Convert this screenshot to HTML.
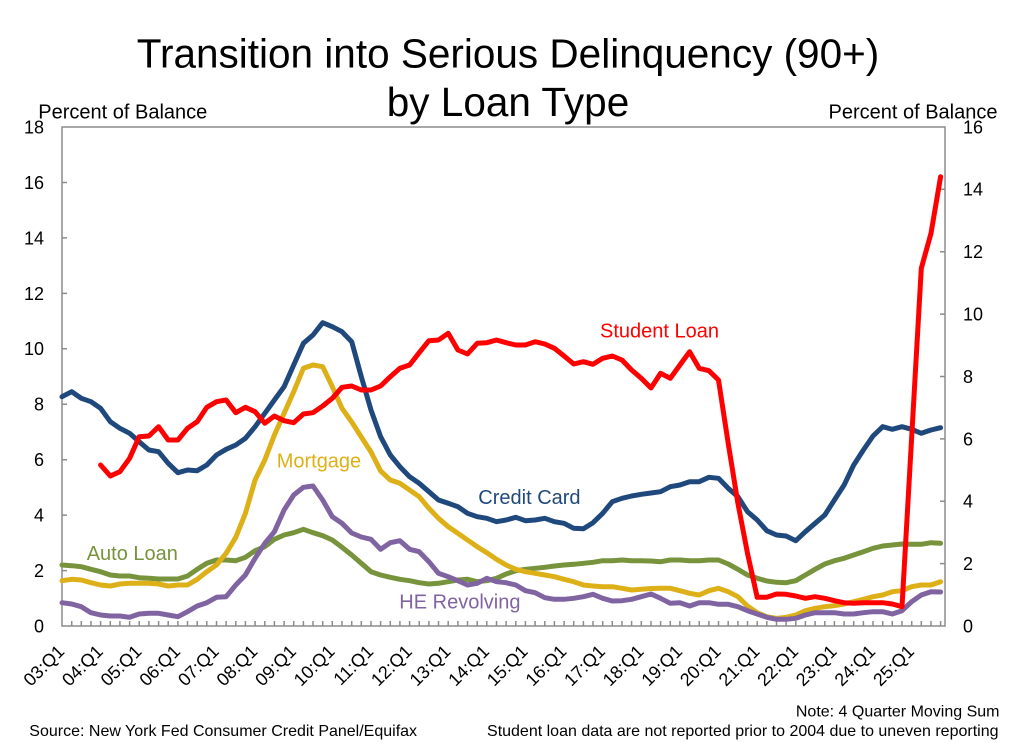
<!DOCTYPE html>
<html><head><meta charset="utf-8"><style>
html,body{margin:0;padding:0;background:#fff;}
svg{display:block;}
text{font-family:"Liberation Sans",Arial,sans-serif;}
</style></head><body>
<svg width="1024" height="743" viewBox="0 0 1024 743" xmlns="http://www.w3.org/2000/svg">
<rect x="0" y="0" width="1024" height="743" fill="#fff"/>
<text x="508" y="67.5" font-size="40.5" text-anchor="middle" fill="#000">Transition into Serious Delinquency (90+)</text>
<text x="508" y="116" font-size="40.5" text-anchor="middle" fill="#000">by Loan Type</text>
<text x="38.3" y="118.3" font-size="20" fill="#000">Percent of Balance</text>
<text x="997.5" y="118.3" font-size="20" text-anchor="end" fill="#000">Percent of Balance</text>

<g stroke="#8c8c8c" stroke-width="1.5" fill="none">
<rect x="62" y="127" width="883" height="499"/>
<path d="M62 570.6H67M62 515.1H67M62 459.7H67M62 404.2H67M62 348.8H67M62 293.4H67M62 237.9H67M62 182.5H67"/>
<path d="M945 563.6H940M945 501.2H940M945 438.9H940M945 376.5H940M945 314.1H940M945 251.7H940M945 189.3H940"/>
<path d="M71.7 626V621M81.3 626V621M91 626V621M100.6 626V621M110.3 626V621M119.9 626V621M129.6 626V621M139.2 626V621M148.9 626V621M158.6 626V621M168.2 626V621M177.9 626V621M187.5 626V621M197.2 626V621M206.8 626V621M216.5 626V621M226.1 626V621M235.8 626V621M245.4 626V621M255.1 626V621M264.8 626V621M274.4 626V621M284.1 626V621M293.7 626V621M303.4 626V621M313 626V621M322.7 626V621M332.3 626V621M342 626V621M351.7 626V621M361.3 626V621M371 626V621M380.6 626V621M390.3 626V621M399.9 626V621M409.6 626V621M419.2 626V621M428.9 626V621M438.5 626V621M448.2 626V621M457.9 626V621M467.5 626V621M477.2 626V621M486.8 626V621M496.5 626V621M506.1 626V621M515.8 626V621M525.4 626V621M535.1 626V621M544.8 626V621M554.4 626V621M564.1 626V621M573.7 626V621M583.4 626V621M593 626V621M602.7 626V621M612.3 626V621M622 626V621M631.6 626V621M641.3 626V621M651 626V621M660.6 626V621M670.3 626V621M679.9 626V621M689.6 626V621M699.2 626V621M708.9 626V621M718.5 626V621M728.2 626V621M737.9 626V621M747.5 626V621M757.2 626V621M766.8 626V621M776.5 626V621M786.1 626V621M795.8 626V621M805.4 626V621M815.1 626V621M824.8 626V621M834.4 626V621M844.1 626V621M853.7 626V621M863.4 626V621M873 626V621M882.7 626V621M892.3 626V621M902 626V621M911.7 626V621M921.3 626V621M931 626V621M940.6 626V621"/>
</g>

<g font-size="18" fill="#000" text-anchor="end">
<text x="44" y="632.4">0</text>
<text x="44" y="577">2</text>
<text x="44" y="521.5">4</text>
<text x="44" y="466.1">6</text>
<text x="44" y="410.6">8</text>
<text x="44" y="355.2">10</text>
<text x="44" y="299.8">12</text>
<text x="44" y="244.3">14</text>
<text x="44" y="188.9">16</text>
<text x="44" y="133.4">18</text>
</g>
<g font-size="18" fill="#000" text-anchor="start">
<text x="963" y="632.4">0</text>
<text x="963" y="570">2</text>
<text x="963" y="507.6">4</text>
<text x="963" y="445.3">6</text>
<text x="963" y="382.9">8</text>
<text x="963" y="320.5">10</text>
<text x="963" y="258.1">12</text>
<text x="963" y="195.7">14</text>
<text x="963" y="133.4">16</text>
</g>

<g font-size="18" fill="#000" text-anchor="end">
<text transform="translate(65.5,652.5) rotate(-45)">03:Q1</text>
<text transform="translate(104.1,652.5) rotate(-45)">04:Q1</text>
<text transform="translate(142.7,652.5) rotate(-45)">05:Q1</text>
<text transform="translate(181.4,652.5) rotate(-45)">06:Q1</text>
<text transform="translate(220,652.5) rotate(-45)">07:Q1</text>
<text transform="translate(258.6,652.5) rotate(-45)">08:Q1</text>
<text transform="translate(297.2,652.5) rotate(-45)">09:Q1</text>
<text transform="translate(335.8,652.5) rotate(-45)">10:Q1</text>
<text transform="translate(374.5,652.5) rotate(-45)">11:Q1</text>
<text transform="translate(413.1,652.5) rotate(-45)">12:Q1</text>
<text transform="translate(451.7,652.5) rotate(-45)">13:Q1</text>
<text transform="translate(490.3,652.5) rotate(-45)">14:Q1</text>
<text transform="translate(528.9,652.5) rotate(-45)">15:Q1</text>
<text transform="translate(567.6,652.5) rotate(-45)">16:Q1</text>
<text transform="translate(606.2,652.5) rotate(-45)">17:Q1</text>
<text transform="translate(644.8,652.5) rotate(-45)">18:Q1</text>
<text transform="translate(683.4,652.5) rotate(-45)">19:Q1</text>
<text transform="translate(722,652.5) rotate(-45)">20:Q1</text>
<text transform="translate(760.7,652.5) rotate(-45)">21:Q1</text>
<text transform="translate(799.3,652.5) rotate(-45)">22:Q1</text>
<text transform="translate(837.9,652.5) rotate(-45)">23:Q1</text>
<text transform="translate(876.5,652.5) rotate(-45)">24:Q1</text>
<text transform="translate(915.2,652.5) rotate(-45)">25:Q1</text>
</g>

<g fill="none" stroke-width="5" stroke-linejoin="round" stroke-linecap="round">
<polyline stroke="#1F497D" points="62,396.7 71.7,391.7 81.3,398.3 91,401.7 100.6,408.3 110.3,421.7 119.9,428.3 129.6,433.3 139.2,441.7 148.9,450 158.6,451.7 168.2,463.3 177.9,472.7 187.5,470 197.2,470.7 206.8,465 216.5,455 226.1,449.3 235.8,445 245.4,438.3 255.1,426.7 264.8,413.3 274.4,400 284.1,386.7 293.7,365 303.4,343.3 313,335 322.7,322.7 332.3,326.7 342,331.7 351.7,341.7 361.3,376.7 371,410 380.6,436.7 390.3,455 399.9,466.7 409.6,476.7 419.2,483.3 428.9,491.7 438.5,500 448.2,503.3 457.9,506.7 467.5,513.3 477.2,516.7 486.8,518.3 496.5,521.7 506.1,520 515.8,517.3 525.4,520.7 535.1,520 544.8,518.3 554.4,521.7 564.1,523.3 573.7,528.3 583.4,528.7 593,522.7 602.7,513.3 612.3,501.7 622,498.3 631.6,496 641.3,494.3 651,493 660.6,491.7 670.3,486.7 679.9,485 689.6,481.7 699.2,481.7 708.9,477.3 718.5,478.3 728.2,488.3 737.9,496.7 747.5,511.7 757.2,520 766.8,530.7 776.5,535 786.1,536 795.8,540.7 805.4,531.7 815.1,523.3 824.8,515 834.4,500 844.1,485 853.7,465 863.4,450 873,436 882.7,426.7 892.3,429.3 902,426.7 911.7,429.3 921.3,433.3 931,430 940.6,427.7"/>
<polyline stroke="#77933C" points="62,565 71.7,565.7 81.3,566.7 91,569.3 100.6,571.7 110.3,575 119.9,576 129.6,576 139.2,577.7 148.9,578.3 158.6,579 168.2,579 177.9,579 187.5,576 197.2,569.3 206.8,563.3 216.5,560 226.1,560 235.8,560.7 245.4,557.3 255.1,550.7 264.8,546.7 274.4,539.3 284.1,535 293.7,532.7 303.4,529.3 313,532.7 322.7,535.7 332.3,540 342,547.3 351.7,555 361.3,563.3 371,571.7 380.6,575 390.3,577.3 399.9,579.3 409.6,580.7 419.2,582.7 428.9,584 438.5,583.3 448.2,581.7 457.9,580 467.5,579.3 477.2,581.7 486.8,580.7 496.5,578.3 506.1,574 515.8,570.7 525.4,569.3 535.1,568.3 544.8,567.3 554.4,566 564.1,565 573.7,564.3 583.4,563.3 593,562.3 602.7,560.7 612.3,560.7 622,560 631.6,560.7 641.3,560.7 651,561 660.6,561.7 670.3,560 679.9,560 689.6,560.7 699.2,560.7 708.9,560 718.5,560 728.2,564 737.9,569.3 747.5,575 757.2,578.3 766.8,581 776.5,582.3 786.1,582.7 795.8,580.7 805.4,575 815.1,569.3 824.8,564 834.4,560.7 844.1,558.3 853.7,555 863.4,551.7 873,548.3 882.7,546 892.3,545 902,544 911.7,544.3 921.3,544.3 931,542.7 940.6,543.3"/>
<polyline stroke="#DEB018" points="62,580.7 71.7,579.3 81.3,580 91,582.7 100.6,585 110.3,586 119.9,584 129.6,583.3 139.2,583.3 148.9,583.3 158.6,584 168.2,586 177.9,585 187.5,585 197.2,579.3 206.8,571.7 216.5,565 226.1,553.3 235.8,537.3 245.4,513.3 255.1,480 264.8,460 274.4,435 284.1,413.3 293.7,391.7 303.4,368.3 313,365 322.7,366.7 332.3,386.7 342,408.3 351.7,422 361.3,437 371,452 380.6,471 390.3,480 399.9,483.3 409.6,490 419.2,496.7 428.9,508.3 438.5,518.3 448.2,526.7 457.9,533.3 467.5,540 477.2,546.7 486.8,552.7 496.5,559.3 506.1,565 515.8,569.3 525.4,571.7 535.1,573.3 544.8,575 554.4,576.7 564.1,579.3 573.7,581.7 583.4,585 593,586 602.7,586.7 612.3,586.7 622,588.3 631.6,590 641.3,589.3 651,588.5 660.6,588.3 670.3,588.3 679.9,590.7 689.6,593.3 699.2,595 708.9,590.7 718.5,588.3 728.2,591.7 737.9,596.7 747.5,606 757.2,612.7 766.8,616.7 776.5,618.3 786.1,617.3 795.8,615 805.4,610.7 815.1,608.3 824.8,606.7 834.4,605.7 844.1,604 853.7,601.7 863.4,599.3 873,596.7 882.7,595 892.3,591.7 902,590.7 911.7,586.7 921.3,585 931,585 940.6,581.7"/>
<polyline stroke="#8064A2" points="62,602.7 71.7,604 81.3,606.7 91,612.7 100.6,615 110.3,616 119.9,616 129.6,617.3 139.2,614 148.9,613.3 158.6,613.3 168.2,615 177.9,616.7 187.5,611.7 197.2,606 206.8,602.7 216.5,597.3 226.1,596.7 235.8,585 245.4,575 255.1,558.3 264.8,543.3 274.4,531.7 284.1,510 293.7,495 303.4,487.3 313,486 322.7,500 332.3,516.7 342,523.3 351.7,533 361.3,537 371,539.3 380.6,549.3 390.3,542.7 399.9,540.7 409.6,549.3 419.2,551.7 428.9,561.7 438.5,573.3 448.2,576.7 457.9,580.7 467.5,585 477.2,583.3 486.8,578.3 496.5,581.7 506.1,582.7 515.8,585 525.4,590.7 535.1,592.7 544.8,597.7 554.4,599.3 564.1,599.3 573.7,598.3 583.4,596.7 593,594.3 602.7,598.3 612.3,601 622,600.7 631.6,599.3 641.3,596.7 651,594 660.6,598.3 670.3,603.3 679.9,602.7 689.6,606 699.2,602.7 708.9,602.7 718.5,604.3 728.2,604.3 737.9,606.7 747.5,610.7 757.2,614 766.8,617.3 776.5,619.3 786.1,619.3 795.8,618.3 805.4,615 815.1,612.7 824.8,612.7 834.4,612.7 844.1,614 853.7,614 863.4,612.7 873,611.7 882.7,611.7 892.3,614 902,610.7 911.7,601.7 921.3,595 931,591.7 940.6,592"/>
<polyline stroke="#FF0000" points="100.6,465 110.3,476 119.9,471.7 129.6,458.3 139.2,436.7 148.9,436 158.6,426.7 168.2,440 177.9,440 187.5,428.3 197.2,421.7 206.8,407.3 216.5,401.7 226.1,400 235.8,412.7 245.4,407.3 255.1,411.7 264.8,423.3 274.4,416 284.1,420.7 293.7,422.7 303.4,414 313,412.7 322.7,406 332.3,398.3 342,387.3 351.7,386 361.3,390 371,390 380.6,386 390.3,376.7 399.9,368.3 409.6,365 419.2,352.7 428.9,340.7 438.5,340 448.2,333.3 457.9,350 467.5,354 477.2,343.3 486.8,342.7 496.5,340 506.1,342.7 515.8,345 525.4,345 535.1,341.7 544.8,344 554.4,348.3 564.1,356 573.7,364 583.4,361.7 593,364.3 602.7,358.3 612.3,356 622,360 631.6,370 641.3,378.3 651,388 660.6,373.3 670.3,378.3 679.9,365 689.6,351.7 699.2,368.3 708.9,370.7 718.5,380 728.2,443.3 737.9,503.3 747.5,553.3 757.2,597.3 766.8,597.3 776.5,594 786.1,594.3 795.8,596 805.4,598.3 815.1,596.7 824.8,598.3 834.4,600.7 844.1,602.7 853.7,603.3 863.4,602.7 873,602.7 882.7,602.7 892.3,604 902,606.7 911.7,436.7 921.3,268.3 931,233.3 940.6,176.7"/>
</g>

<g font-size="20">
<text x="600" y="337.5" fill="#FF0000">Student Loan</text>
<text x="478.3" y="504" fill="#1F497D">Credit Card</text>
<text x="276.7" y="467.5" fill="#DEB018">Mortgage</text>
<text x="86.7" y="560" fill="#77933C">Auto Loan</text>
<text x="399.3" y="608.5" fill="#8064A2">HE Revolving</text>
</g>

<g font-size="16" fill="#000">
<text x="29.3" y="736.2">Source: New York Fed Consumer Credit Panel/Equifax</text>
<text x="999.5" y="716.5" text-anchor="end">Note: 4 Quarter Moving Sum</text>
<text x="998.5" y="736.2" text-anchor="end">Student loan data are not reported prior to 2004 due to uneven reporting</text>
</g>
</svg>
</body></html>
